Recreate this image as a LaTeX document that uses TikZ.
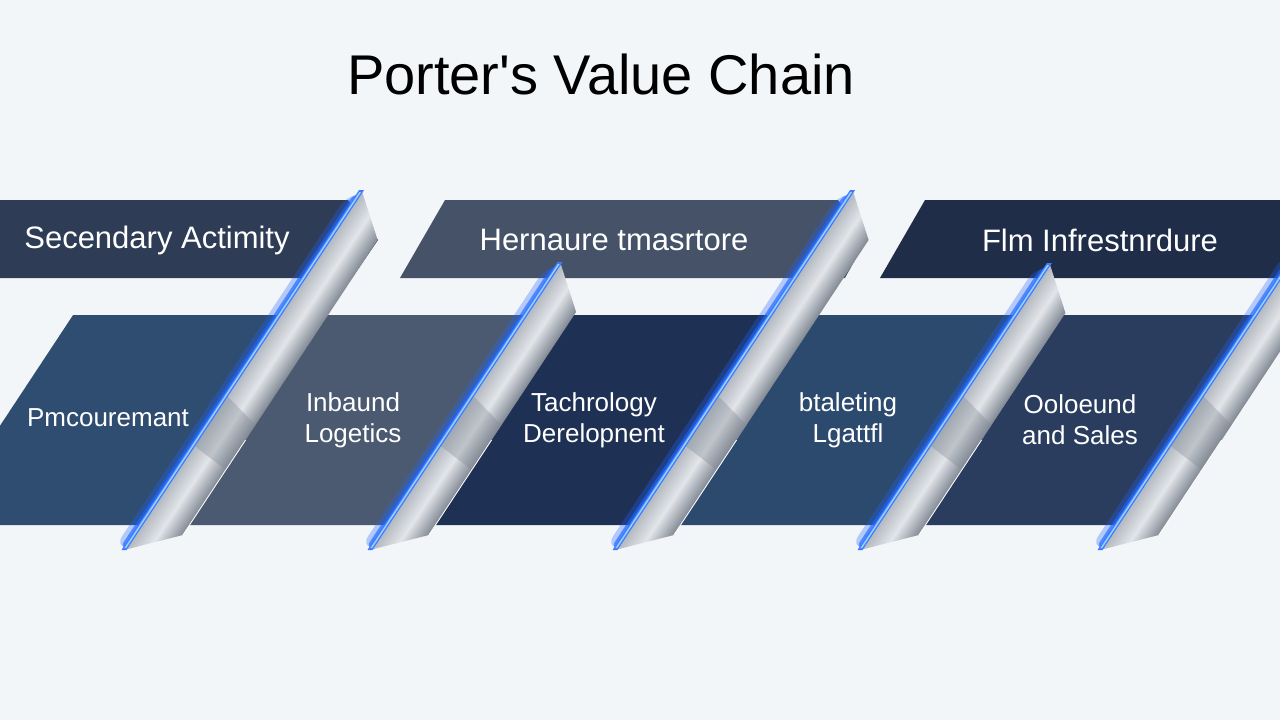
\documentclass[tikz,border=0pt]{standalone}
\usepackage{fontspec}
\setmainfont{Liberation Sans}[Ligatures=TeXOff]
\definecolor{pagebg}{RGB}{243,246,249}
\definecolor{bannerone}{RGB}{46,60,86}
\definecolor{bannertwo}{RGB}{70,82,104}
\definecolor{bannerthree}{RGB}{31,45,73}
\definecolor{panelone}{RGB}{47,77,112}
\definecolor{paneltwo}{RGB}{75,90,112}
\definecolor{panelthree}{RGB}{30,49,85}
\definecolor{panelfour}{RGB}{44,74,110}
\definecolor{panelfive}{RGB}{43,61,94}
\definecolor{barsilver}{RGB}{176,182,190}
\definecolor{barshine}{RGB}{226,229,233}
\definecolor{barshadow}{RGB}{128,136,147}
\definecolor{glowblue}{RGB}{30,100,255}
\definecolor{glowcore}{RGB}{150,210,255}

\begin{document}
\begin{tikzpicture}[x=1pt,y=-1pt,
        titletext/.style={font=\fontsize{56}{62}\selectfont,text=black},
        bannertext/.style={font=\fontsize{31}{36}\selectfont,text=white},
        paneltext/.style={font=\fontsize{26}{31}\selectfont,text=white,align=center},
        barbody/.style={left color=barsilver,right color=barshadow,middle color=barshine},
        glowwide/.style={draw=glowblue,draw opacity=0.3,line width=22pt,line cap=round},
        glowhalo/.style={draw=glowblue,draw opacity=0.65,line width=11pt,line cap=round},
        glowmid/.style={draw=glowblue!85!white,line width=5pt},
        glowline/.style={draw=glowcore,line width=1.8pt},
        baredge/.style={draw=white,line width=1pt}]
    \useasboundingbox (0,0) rectangle (1280,720);
    \clip (0,0) rectangle (1280,720);
    \fill [pagebg] (0,0) rectangle (1280,720);

    \node (title) [titletext] at (601,74) {Porter's Value Chain};

    % banners on top
    \fill [bannerone] (0,200) -- (348,200) -- (378,240) -- (352,278) -- (0,278) -- cycle;
    \fill [bannertwo] (445,200) -- (838,200) -- (866,240) -- (845,278) -- (400,278) -- cycle;
    \fill [bannerthree] (925,200) -- (1280,200) -- (1280,278) -- (880,278) -- cycle;

    % slanted panels
    \begin{scope}[xslant=0.66]
        \fill [panelone] (281,315) rectangle (511,525);
        \fill [paneltwo] (511,315) rectangle (757,525);
        \fill [panelthree] (757,315) rectangle (1002,525);
        \fill [panelfour] (1002,315) rectangle (1247,525);
        \fill [panelfive] (1247,315) rectangle (1470,525);
    \end{scope}

    % slanted bars
    \begin{scope}[transform canvas={xslant=0.66}]
        % bar 1
        \draw [glowwide] (487,206) -- (487,536);
        \draw [glowhalo] (487,200) -- (487,542);
        \shade [barbody] (487,190) -- (536,240) -- (536,535) -- (487,550) -- cycle;
        \fill [barshadow, opacity=0.35] (487,395) -- (536,425) -- (536,470) -- (487,445) -- cycle;
        \draw [baredge] (536,440) -- (536,535);
        \draw [glowmid] (487,190) -- (487,550);
        \draw [glowline] (487,192) -- (487,548);

        % bar 2
        \draw [glowwide] (733,278) -- (733,536);
        \draw [glowhalo] (733,272) -- (733,542);
        \shade [barbody] (733,262) -- (782,312) -- (782,535) -- (733,550) -- cycle;
        \fill [barshadow, opacity=0.35] (733,395) -- (782,425) -- (782,470) -- (733,445) -- cycle;
        \draw [baredge] (782,440) -- (782,535);
        \draw [glowmid] (733,262) -- (733,550);
        \draw [glowline] (733,264) -- (733,548);

        % bar 3
        \draw [glowwide] (978,206) -- (978,536);
        \draw [glowhalo] (978,200) -- (978,542);
        \shade [barbody] (978,190) -- (1027,240) -- (1027,535) -- (978,550) -- cycle;
        \fill [barshadow, opacity=0.35] (978,395) -- (1027,425) -- (1027,470) -- (978,445) -- cycle;
        \draw [baredge] (1027,440) -- (1027,535);
        \draw [glowmid] (978,190) -- (978,550);
        \draw [glowline] (978,192) -- (978,548);

        % bar 4
        \draw [glowwide] (1223,279) -- (1223,536);
        \draw [glowhalo] (1223,273) -- (1223,542);
        \shade [barbody] (1223,263) -- (1272,313) -- (1272,535) -- (1223,550) -- cycle;
        \fill [barshadow, opacity=0.35] (1223,395) -- (1272,425) -- (1272,470) -- (1223,445) -- cycle;
        \draw [baredge] (1272,440) -- (1272,535);
        \draw [glowmid] (1223,263) -- (1223,550);
        \draw [glowline] (1223,265) -- (1223,548);

        % bar 5
        \draw [glowwide] (1463,266) -- (1463,536);
        \draw [glowhalo] (1463,260) -- (1463,542);
        \shade [barbody] (1463,250) -- (1512,300) -- (1512,535) -- (1463,550) -- cycle;
        \fill [barshadow, opacity=0.35] (1463,395) -- (1512,425) -- (1512,470) -- (1463,445) -- cycle;
        \draw [baredge] (1512,440) -- (1512,535);
        \draw [glowmid] (1463,250) -- (1463,550);
        \draw [glowline] (1463,252) -- (1463,548);
    \end{scope}

    \node (secact) [bannertext] at (157,240) {Secendary Actimity};
    \node (hrmgmt) [bannertext] at (614,240) {Hernaure tmasrtore};
    \node (firminf) [bannertext] at (1100,240) {Flm Infrestnrdure};

    \node (procure) [paneltext] at (108,418) {Pmcouremant};
    \node (inbound) [paneltext] at (353,420) {Inbaund\\Logetics};
    \node (techdev) [paneltext] at (594,420) {Tachrology\\Derelopnent};
    \node (marketing) [paneltext] at (848,420) {btaleting\\Lgattfl};
    \node (outbound) [paneltext] at (1080,420) {Ooloeund\\and Sales};
\end{tikzpicture}
\end{document}
